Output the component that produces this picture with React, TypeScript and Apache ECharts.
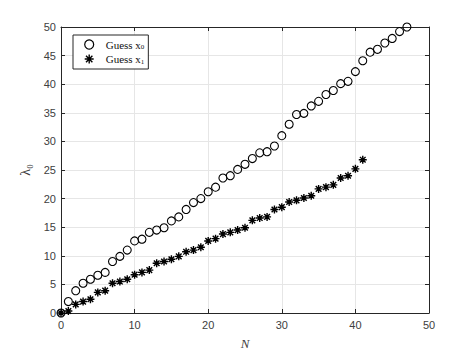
import React, { useEffect, useRef } from "react";
import * as echarts from "echarts";

const nGuess0 = [0,1,2,3,4,5,6,7,8,9,10,11,12,13,14,15,16,17,18,19,20,21,22,23,24,25,26,27,28,29,30,31,32,33,34,35,36,37,38,39,40,41,42,43,44,45,46,47];
const lambdaGuess0 = [0,2.0,3.9,5.2,5.9,6.6,7.1,9.0,9.9,11.0,12.6,12.9,14.1,14.5,14.9,16.1,16.8,18.1,19.3,20.0,21.2,22.0,23.6,24.0,25.1,26.0,27.0,28.0,28.2,29.2,31.0,33.0,34.7,34.9,36.2,37.0,38.2,38.9,40.1,40.5,42.2,44.1,45.6,46.1,47.2,48.0,49.2,50.0];
const nGuess1 = [0,1,2,3,4,5,6,7,8,9,10,11,12,13,14,15,16,17,18,19,20,21,22,23,24,25,26,27,28,29,30,31,32,33,34,35,36,37,38,39,40,41];
const lambdaGuess1 = [0,0.35,1.5,2.0,2.4,3.6,3.9,5.2,5.5,5.9,6.7,7.1,7.5,8.7,9.0,9.4,9.9,10.7,11.0,11.5,12.6,13.0,13.8,14.1,14.5,14.9,16.2,16.6,16.8,18.1,18.5,19.4,19.7,20.1,20.5,21.7,22.0,22.4,23.6,24.0,25.2,26.8];
const xTicks = [0, 10, 20, 30, 40, 50];
const yTicks = [0, 5, 10, 15, 20, 25, 30, 35, 40, 45, 50];

const ASTERISK = "path://M0,-5L0,5M-5,0L5,0M-3.54,-3.54L3.54,3.54M-3.54,3.54L3.54,-3.54";

export default function App() {
  const ref = useRef<HTMLDivElement>(null);
  useEffect(() => {
    if (!ref.current) return;
    const chart = echarts.init(ref.current, null, { renderer: "svg" });
    const labelFont = { fontFamily: "Liberation Sans", fontSize: 11, color: "#404040" };
    chart.setOption({
      animation: false,
      backgroundColor: "#ffffff",
      grid: { left: 61, right: 45, top: 27, bottom: 39, show: false },
      legend: {
        left: 73,
        top: 35,
        orient: "vertical",
        backgroundColor: "#ffffff",
        borderColor: "#262626",
        borderWidth: 1,
        borderRadius: 0,
        padding: [4, 4, 4, 11],
        itemGap: 3,
        itemWidth: 9,
        itemHeight: 9,
        textStyle: {
          fontFamily: "Liberation Serif",
          fontWeight: "normal",
          fontSize: 11,
          color: "#111",
          padding: [0, 0, 0, 7],
          rich: {
            main: { fontFamily: "Liberation Serif", fontWeight: "normal", fontSize: 11, color: "#111" },
            sub: { fontFamily: "Liberation Serif", fontWeight: "normal", fontSize: 7, verticalAlign: "bottom", padding: [5, 0, 0, 0], color: "#111" },
          },
        },
        formatter: (name: string) => (name === "Guess x0" ? "{main|Guess x}{sub|0}" : "{main|Guess x}{sub|1}"),
        data: [
          { name: "Guess x0", icon: "circle", itemStyle: { color: "rgba(0,0,0,0)", borderColor: "#000", borderWidth: 1.2 } },
          { name: "Guess x1", icon: ASTERISK, itemStyle: { color: "#000", borderColor: "#000", borderWidth: 1.4 } },
        ],
      },
      xAxis: [
        {
          type: "value",
          min: 0,
          max: 50,
          interval: 10,
          name: "N",
          nameLocation: "middle",
          nameGap: 24,
          nameTextStyle: { fontFamily: "Liberation Serif", fontStyle: "italic", fontSize: 13, color: "#404040" },
          axisLine: { show: true, onZero: false, lineStyle: { color: "#262626", width: 1 } },
          axisTick: { show: true, inside: true, length: 4, lineStyle: { color: "#262626" } },
          axisLabel: { ...labelFont, margin: 6, formatter: (v: number) => (xTicks.includes(v) ? String(v) : "") },
          splitLine: { show: true, lineStyle: { color: "#e6e6e6", width: 1 } },
        },
        {
          type: "value",
          position: "top",
          min: 0,
          max: 50,
          interval: 10,
          axisLine: { show: true, onZero: false, lineStyle: { color: "#262626", width: 1 } },
          axisTick: { show: true, inside: true, length: 4, lineStyle: { color: "#262626" } },
          axisLabel: { show: false },
          splitLine: { show: false },
        },
      ],
      yAxis: [
        {
          type: "value",
          min: 0,
          max: 50,
          interval: 5,
          name: "λ₀",
          nameLocation: "middle",
          nameGap: 15,
          nameRotate: 90,
          nameTextStyle: { fontFamily: "Liberation Serif", fontSize: 14, color: "#404040" },
          axisLine: { show: true, onZero: false, lineStyle: { color: "#262626", width: 1 } },
          axisTick: { show: true, inside: true, length: 4, lineStyle: { color: "#262626" } },
          axisLabel: { ...labelFont, margin: 5, formatter: (v: number) => (yTicks.includes(v) ? String(v) : "") },
          splitLine: { show: true, lineStyle: { color: "#e6e6e6", width: 1 } },
        },
        {
          type: "value",
          position: "right",
          min: 0,
          max: 50,
          interval: 5,
          axisLine: { show: true, onZero: false, lineStyle: { color: "#262626", width: 1 } },
          axisTick: { show: true, inside: true, length: 4, lineStyle: { color: "#262626" } },
          axisLabel: { show: false },
          splitLine: { show: false },
        },
      ],
      series: [
        {
          name: "Guess x0",
          type: "scatter",
          xAxisIndex: 0,
          yAxisIndex: 0,
          symbol: "circle",
          symbolSize: 8,
          itemStyle: { color: "rgba(0,0,0,0)", borderColor: "#000", borderWidth: 1.1, opacity: 1 },
          data: nGuess0.map((n, i) => [n, lambdaGuess0[i]]),
          z: 3,
        },
        {
          name: "Guess x1",
          type: "scatter",
          xAxisIndex: 0,
          yAxisIndex: 0,
          symbol: ASTERISK,
          symbolSize: 8,
          itemStyle: { color: "#000", borderColor: "#000", borderWidth: 1.4, opacity: 1 },
          data: nGuess1.map((n, i) => [n, lambdaGuess1[i]]),
          z: 4,
        },
      ],
    });
    return () => chart.dispose();
  }, []);
  return <div ref={ref} style={{ position: "fixed", left: 0, top: 0, width: 474, height: 355 }} />;
}
